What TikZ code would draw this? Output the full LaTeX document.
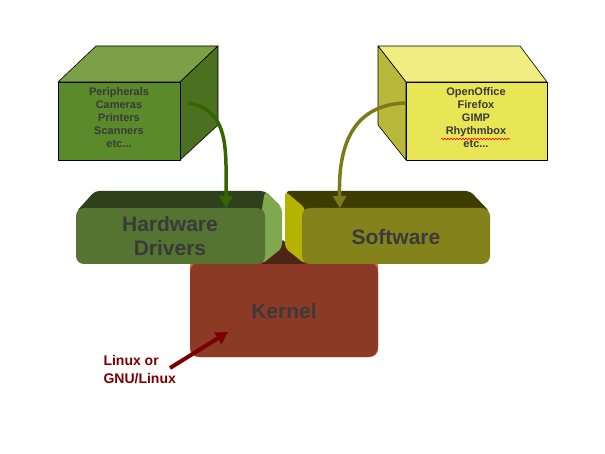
\documentclass[tikz,border=0pt]{standalone}
\usepackage{fontspec}
\setmainfont{Liberation Sans}
\usetikzlibrary{arrows.meta,decorations.pathmorphing}
\definecolor{gfront}{HTML}{5B8A2A}\definecolor{gtop}{HTML}{7BA045}\definecolor{gside}{HTML}{4A7020}
\definecolor{yfront}{HTML}{E8E655}\definecolor{ytop}{HTML}{F0EE80}\definecolor{yside}{HTML}{B8B83A}
\definecolor{hwf}{HTML}{557432}\definecolor{hwt}{HTML}{2E401C}\definecolor{hws}{HTML}{7FA850}
\definecolor{swf}{HTML}{84821A}\definecolor{swt}{HTML}{3E3C00}\definecolor{sws}{HTML}{B4B400}
\definecolor{kf}{HTML}{8B3A26}\definecolor{kt}{HTML}{4E2418}\definecolor{ko}{HTML}{E0603A}
\definecolor{txt}{HTML}{3A3A3A}
\definecolor{ga}{HTML}{336600}\definecolor{ya}{HTML}{7C7A1A}\definecolor{ra}{HTML}{7A0000}
\tikzset{edge/.style={draw=black,line width=0.6pt,line join=round},
 small/.style={font=\bfseries\fontsize{11}{13}\selectfont,text=txt,align=center},
 big/.style={font=\bfseries\fontsize{21}{24}\selectfont,text=txt,align=center},
 arr/.style={line width=3.5pt,-{Triangle[length=12pt,width=13pt]}}}
\begin{document}
\begin{tikzpicture}[x=1pt,y=-1pt]
\useasboundingbox (0,0) rectangle (605,454);
\fill[white] (0,0) rectangle (605,454);
% left cube
\fill[gtop,edge] (58,82)--(96,46)--(218,46)--(180,82)--cycle;
\fill[gside,edge] (180,82)--(218,46)--(218,125)--(180,160)--cycle;
\fill[gfront,edge] (58,82) rectangle (180,160);
\node[small] (per) at (119,118) {Peripherals\\Cameras\\Printers\\Scanners\\etc...};
% right cube
\fill[ytop,edge] (406,82)--(378,46)--(520,46)--(547,82)--cycle;
\fill[yside,edge] (378,46)--(406,82)--(406,160)--(378,125)--cycle;
\fill[yfront,edge] (406,82) rectangle (547,160);
\node[small] (app) at (476,118) {OpenOffice\\Firefox\\GIMP\\Rhythmbox\\etc...};
\draw[red,line width=0.6pt,decorate,decoration={snake,amplitude=0.8pt,segment length=3pt}] (441,139)--(510,139);
% kernel
\fill[ko,rounded corners=8pt] (190,258) rectangle (378,357);
\fill[kf,rounded corners=10pt] (190,262) rectangle (378,357);
\fill[kt] (262,264)--(283,240)--(305,264)--cycle;
\node[big] (ker) at (284,311) {Kernel};
% hardware drivers
\fill[hwt,rounded corners=4pt] (76,212)--(95,191)--(265,191)--(282,208)--(265,214)--cycle;
\fill[hws,rounded corners=4pt] (262,208)--(265,191)--(282,208)--(282,248)--(262,264)--cycle;
\fill[hwf,rounded corners=8pt] (76,208) rectangle (265,264);
\node[big] (hw) at (170,236) {Hardware\\Drivers};
% software
\fill[swt,rounded corners=4pt] (285,191)--(470,191)--(490,212)--(302,214)--cycle;
\fill[sws,rounded corners=4pt] (285,191)--(305,208)--(305,264)--(285,248)--cycle;
\fill[swf,rounded corners=8pt] (302,208) rectangle (490,264);
\node[big] (sw) at (396,237) {Software};
% arrows
\coordinate (a1) at (188,103); \coordinate (b1) at (226,208);
\draw[arr,color=ga] (a1) .. controls (230,110) and (226,150) .. (b1);
\coordinate (a2) at (405,103); \coordinate (b2) at (340,208);
\draw[arr,color=ya] (a2) .. controls (350,105) and (338,150) .. (b2);
\node[font=\bfseries\fontsize{14}{18}\selectfont,text=ra,align=left,anchor=north west] (lin) at (100,352) {Linux or\\GNU/Linux};
\coordinate (a3) at (170,368); \coordinate (b3) at (228,332);
\draw[arr,line width=4pt,color=ra] (a3) -- (b3);
\end{tikzpicture}
\end{document}
